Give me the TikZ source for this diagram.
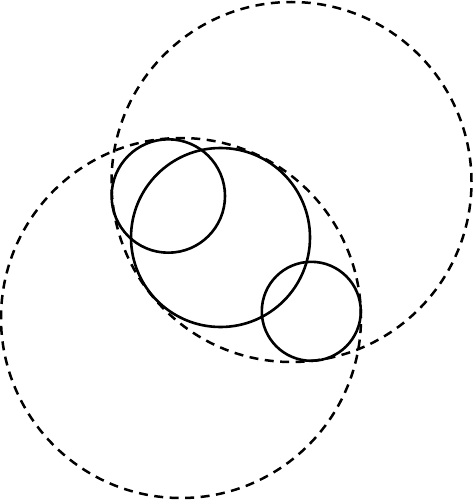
\documentclass[tikz,border=0pt]{standalone}
\begin{document}
\begin{tikzpicture}[x=1pt,y=-1pt,
  dashcirc/.style={draw=black,line width=2.5pt,dash pattern=on 9pt off 6.5pt},
  solidcirc/.style={draw=black,line width=2.6pt}]
\useasboundingbox (0,0) rectangle (474,500);
\coordinate (A) at (291.5,182);
\coordinate (B) at (181,318);
\draw[dashcirc] (A) circle[radius=180pt];
\draw[dashcirc] (B) circle[radius=180pt];
\draw[solidcirc] (220.5,237.5) circle[radius=89.5pt];
\draw[solidcirc] (168.3,196) circle[radius=56.7pt];
\draw[solidcirc] (311.3,311.3) circle[radius=49.5pt];
\end{tikzpicture}
\end{document}
